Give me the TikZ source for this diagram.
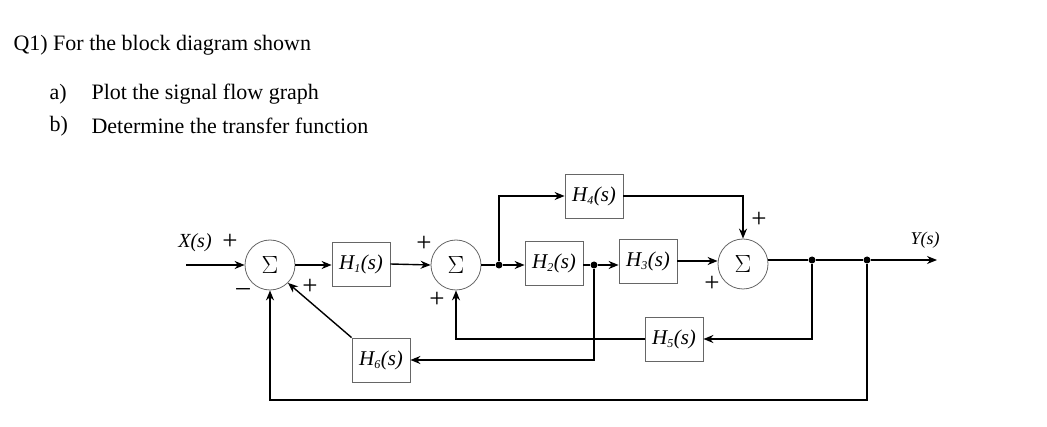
\documentclass[tikz,border=0pt]{standalone}
\usepackage{fontspec}
\setmainfont{Liberation Serif}
\usetikzlibrary{arrows.meta}
\newcommand{\sbs}[1]{\textsubscript{\fontsize{12}{12}\selectfont #1}}
\begin{document}
\begin{tikzpicture}[x=1pt,y=-1pt,
 blk/.style={draw=gray!80!black,line width=0.8pt,minimum width=58pt,minimum height=44pt,inner sep=0pt,font=\fontsize{21}{21}\selectfont\itshape},
 sm/.style={circle,draw=gray!80!black,line width=0.8pt,minimum size=50pt,inner sep=0pt,font=\fontsize{30}{30}\selectfont},
 ln/.style={line width=1.4pt},
 ar/.style={ln,-{Stealth[length=10pt,width=8pt]}},
 dot/.style={circle,fill,inner sep=0pt,minimum size=7pt},
 sg/.style={font=\fontsize{27}{27}\selectfont},
 txt/.style={anchor=west,font=\fontsize{22}{22}\selectfont}]
\useasboundingbox (0,0) rectangle (1047,427);
\node[txt] (t1) at (10,45) {Q1) For the block diagram shown};
\node[txt] (t2a) at (46,94) {a)};
\node[txt] (t2) at (88,94) {Plot the signal flow graph};
\node[txt] (t3a) at (46,126) {b)};
\node[txt] (t3) at (88,126) {Determine the transfer function};

\node[sm] (s1) at (270,265) {$\Sigma$};
\node[sm] (s2) at (456,265) {$\Sigma$};
\node[sm] (s3) at (743,264) {$\Sigma$};
\node[blk] (h1) at (361,264) {H\sbs{1}(s)};
\node[blk] (h2) at (554,263) {H\sbs{2}(s)};
\node[blk] (h3) at (648,261) {H\sbs{3}(s)};
\node[blk] (h4) at (594,196) {H\sbs{4}(s)};
\node[blk] (h5) at (674,339) {H\sbs{5}(s)};
\node[blk] (h6) at (381,360) {H\sbs{6}(s)};

\coordinate (xin) at (186,265);
\node[dot] (j1) at (499,265) {};
\node[dot] (j2) at (594,265) {};
\node[dot] (j3) at (812,260) {};
\node[dot] (j4) at (867,260) {};
\coordinate (yout) at (937,260);

\node[font=\fontsize{20}{20}\selectfont\itshape] (xl) at (195,243) {X(s)};
\node[font=\fontsize{18}{18}\selectfont\itshape] (yl) at (925,240) {Y(s)};
\node[sg] (p1) at (230,242) {+};
\node[sg] (m1) at (243,292) {\textendash};
\node[sg] (p2) at (310,287) {+};
\node[sg] (p3) at (424,244) {+};
\node[sg] (p4) at (437,300) {+};
\node[sg] (p5) at (759,220) {+};
\node[sg] (p6) at (712,284) {+};

\draw[ar] (xin) -- (s1.west);
\draw[ar] (s1.east) -- (h1.west |- s1.east);
\draw[ar] (h1.east) -- (s2.west);
\draw[ln] (s2.east) -- (j1);
\draw[ar] (j1) -- (h2.west |- j1);
\draw[ln] (h2.east |- j2) -- (j2);
\draw[ar] (j2) -- (h3.west |- j2);
\draw[ar] (h3.east) -- (s3.west |- h3.east);
\draw[ar] (j1) |- (h4.west);
\draw[ar] (h4.east) -| (s3.north);
\draw[ln] (s3.east |- j3) -- (j3) -- (j4);
\draw[ar] (j4) -- (yout);
\draw[ar] (j3) |- (h5.east);
\draw[ar] (h5.west) -| (s2.south);
\draw[ar] (j2) |- (h6.east);
\draw[ar] (h6.north west) -- (s1.-45);
\draw[ar] (j4) |- (270,400) -- (s1.south);
\end{tikzpicture}
\end{document}
